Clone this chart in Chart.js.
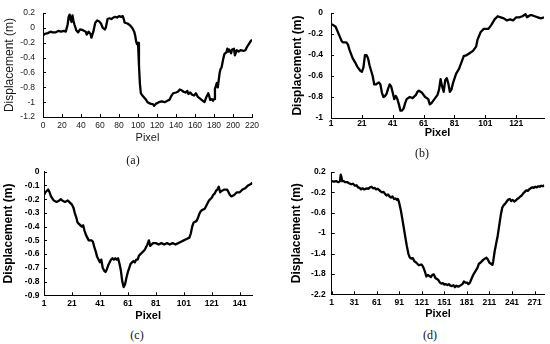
<!DOCTYPE html>
<html>
<head>
<meta charset="utf-8">
<script src="https://cdn.jsdelivr.net/npm/chart.js@4.4.0/dist/chart.umd.min.js"></script>
<style>
body { margin: 0; background: #fff; width: 550px; height: 344px; position: relative; overflow: hidden; }
canvas { position: absolute; }
.cap { position: absolute; font-family: "Liberation Serif", "Times New Roman", serif; font-size: 12px; color: #111; transform: translate(-50%, -50%); }
</style>
</head>
<body>
<canvas id="chartA" width="275" height="145" style="left:0;top:0"></canvas>
<canvas id="chartB" width="275" height="140" style="left:275px;top:0"></canvas>
<canvas id="chartC" width="275" height="163" style="left:0;top:160px"></canvas>
<canvas id="chartD" width="275" height="161" style="left:275px;top:160px"></canvas>
<div class="cap" style="left:133px;top:160px">(a)</div>
<div class="cap" style="left:422px;top:153px">(b)</div>
<div class="cap" style="left:137px;top:335px">(c)</div>
<div class="cap" style="left:430px;top:335px">(d)</div>
<script>
// (a)
const pixelA = [0,2,5,8,10,13,16,19,22,24,26,27,28,29,30,31,32,33,35,37,39,42,45,46,48,50,51,53,55,57,59,61,63,65,66,68,70,72,74,76,78,80,82,84,85,86,89,92,94,96,97,98,99,100,101,102,103,104,106,108,110,113,116,117,119,122,125,128,131,133,135,137,140,142,144,146,148,150,152,153,155,157,159,161,163,165,168,170,172,174,175,176,178,179,180,181,183,184,185,186,187,188,190,191,193,194,195,196,198,199,201,202,204,206,208,211,213,215,217,219,220];
const dispA = [-0.10,-0.08,-0.07,-0.05,-0.06,-0.06,-0.04,-0.05,-0.04,-0.05,0.05,0.15,0.18,0.12,0.08,0.17,0.10,0.05,-0.03,-0.06,-0.02,-0.03,-0.05,-0.09,-0.05,-0.08,-0.13,-0.05,0.07,0.10,0.09,0.06,0.00,-0.02,0.00,0.12,0.13,0.12,0.14,0.15,0.14,0.16,0.15,0.16,0.12,0.07,0.06,0.03,0.00,-0.05,-0.10,-0.18,-0.22,-0.20,-0.50,-0.75,-0.88,-0.90,-0.93,-0.96,-1.00,-1.02,-1.03,-1.05,-1.02,-1.00,-0.99,-1.00,-0.98,-0.97,-0.92,-0.88,-0.87,-0.86,-0.83,-0.84,-0.86,-0.87,-0.85,-0.89,-0.87,-0.90,-0.91,-0.88,-0.93,-0.95,-0.98,-1.00,-0.93,-0.88,-0.92,-0.97,-0.96,-0.98,-0.96,-0.82,-0.74,-0.80,-0.70,-0.60,-0.55,-0.53,-0.40,-0.35,-0.33,-0.28,-0.32,-0.29,-0.34,-0.29,-0.28,-0.37,-0.30,-0.32,-0.30,-0.31,-0.30,-0.25,-0.21,-0.17,-0.16];
const xTicksA = [0,20,40,60,80,100,120,140,160,180,200,220];
const yTicksA = [0.2,0,-0.2,-0.4,-0.6,-0.8,-1,-1.2];

// (b)
const pixelB = [1,2,4,6,8,9,11,12,13,15,17,18,20,21,22,23,24,25,26,27,28,29,30,32,33,34,35,36,37,38,39,40,41,42,43,44,45,46,47,48,49,50,52,54,56,57,58,60,62,64,65,66,68,70,71,72,73,74,75,76,77,78,79,80,82,84,86,87,89,91,93,95,96,98,100,103,105,107,109,111,113,115,117,119,121,123,125,126,127,128,130,131,133,135,137,139];
const dispB = [-0.11,-0.11,-0.13,-0.20,-0.27,-0.28,-0.28,-0.30,-0.35,-0.43,-0.48,-0.51,-0.55,-0.56,-0.52,-0.40,-0.40,-0.43,-0.50,-0.55,-0.60,-0.68,-0.68,-0.66,-0.68,-0.76,-0.80,-0.79,-0.77,-0.72,-0.68,-0.70,-0.76,-0.82,-0.79,-0.82,-0.87,-0.93,-0.93,-0.91,-0.86,-0.82,-0.80,-0.81,-0.78,-0.75,-0.74,-0.76,-0.80,-0.82,-0.87,-0.86,-0.82,-0.78,-0.73,-0.63,-0.70,-0.75,-0.64,-0.62,-0.67,-0.75,-0.73,-0.67,-0.58,-0.53,-0.45,-0.41,-0.40,-0.38,-0.36,-0.32,-0.25,-0.18,-0.15,-0.15,-0.11,-0.06,-0.03,-0.04,-0.05,-0.07,-0.06,-0.07,-0.04,-0.04,-0.03,-0.02,-0.01,-0.04,-0.02,-0.02,-0.03,-0.04,-0.05,-0.04];
const xTicksB = [1,21,41,61,81,101,121];
const yTicksB = [0,-0.2,-0.4,-0.6,-0.8,-1];

// (c)
const pixelC = [1,2,4,5,6,8,10,12,13,14,16,18,19,21,22,23,24,25,26,28,29,30,31,32,33,35,36,37,38,39,40,41,42,43,44,45,46,47,48,49,50,51,52,53,54,55,56,57,58,59,60,61,62,63,64,65,66,67,68,69,70,71,72,73,74,75,76,77,78,79,81,83,85,87,89,91,93,95,97,99,101,103,105,106,107,108,110,111,112,113,114,116,117,118,119,120,121,122,123,124,125,126,127,128,130,132,133,134,135,137,139,141,143,145,147,149,150];
const dispC = [-0.17,-0.15,-0.13,-0.15,-0.18,-0.21,-0.22,-0.21,-0.20,-0.21,-0.22,-0.21,-0.22,-0.24,-0.26,-0.30,-0.33,-0.37,-0.38,-0.40,-0.39,-0.43,-0.46,-0.48,-0.50,-0.50,-0.51,-0.55,-0.58,-0.62,-0.64,-0.66,-0.64,-0.70,-0.72,-0.73,-0.71,-0.68,-0.66,-0.64,-0.63,-0.64,-0.63,-0.64,-0.63,-0.67,-0.72,-0.80,-0.84,-0.82,-0.77,-0.73,-0.70,-0.67,-0.66,-0.65,-0.66,-0.64,-0.64,-0.61,-0.60,-0.59,-0.58,-0.57,-0.55,-0.53,-0.50,-0.54,-0.53,-0.52,-0.52,-0.53,-0.52,-0.53,-0.52,-0.53,-0.52,-0.53,-0.52,-0.51,-0.50,-0.49,-0.48,-0.45,-0.40,-0.37,-0.36,-0.34,-0.31,-0.29,-0.28,-0.27,-0.25,-0.23,-0.21,-0.20,-0.19,-0.17,-0.16,-0.14,-0.13,-0.11,-0.15,-0.14,-0.13,-0.13,-0.15,-0.17,-0.18,-0.17,-0.15,-0.15,-0.13,-0.12,-0.10,-0.09,-0.08];
const xTicksC = [1,21,41,61,81,101,121,141];
const yTicksC = [0,-0.1,-0.2,-0.3,-0.4,-0.5,-0.6,-0.7,-0.8,-0.9];

// (d)
const pixelD = [1,4,7,10,12,13,14,15,17,19,22,24,27,29,32,34,36,38,40,42,44,46,48,50,52,54,56,58,60,62,64,66,68,70,72,74,76,78,80,82,84,86,88,89,90,91,93,95,97,99,101,103,105,107,109,111,113,115,117,119,121,123,125,127,129,131,133,135,137,139,141,143,145,147,149,151,153,155,157,159,161,163,165,167,169,171,173,175,177,179,181,183,185,187,189,191,193,195,197,199,201,203,205,207,209,211,213,215,216,218,220,222,224,226,228,230,232,234,236,238,240,242,244,246,248,250,252,254,256,258,260,262,264,266,268,270,272,274,276,278,280,282,284];
const dispD = [0.02,0.01,0.02,0.00,0.02,0.15,0.10,0.02,0.02,0.00,0.00,-0.02,-0.04,-0.03,-0.07,-0.06,-0.10,-0.11,-0.14,-0.12,-0.14,-0.13,-0.12,-0.13,-0.10,-0.09,-0.12,-0.11,-0.14,-0.13,-0.15,-0.18,-0.20,-0.19,-0.23,-0.26,-0.24,-0.28,-0.30,-0.28,-0.33,-0.32,-0.35,-0.33,-0.36,-0.42,-0.55,-0.72,-0.90,-1.08,-1.25,-1.40,-1.48,-1.50,-1.49,-1.55,-1.57,-1.60,-1.63,-1.62,-1.62,-1.67,-1.75,-1.85,-1.82,-1.84,-1.86,-1.82,-1.81,-1.88,-1.90,-1.92,-1.97,-1.99,-1.98,-2.01,-2.00,-2.02,-2.00,-2.03,-2.04,-2.02,-2.06,-2.03,-2.05,-2.04,-2.02,-2.00,-1.95,-1.97,-1.97,-2.00,-1.97,-1.90,-1.83,-1.78,-1.73,-1.68,-1.60,-1.58,-1.55,-1.52,-1.50,-1.48,-1.52,-1.58,-1.60,-1.62,-1.55,-1.35,-1.20,-1.05,-0.85,-0.65,-0.50,-0.45,-0.42,-0.38,-0.34,-0.33,-0.37,-0.35,-0.38,-0.36,-0.33,-0.31,-0.28,-0.26,-0.22,-0.19,-0.16,-0.17,-0.14,-0.12,-0.10,-0.11,-0.09,-0.10,-0.08,-0.09,-0.07,-0.08,-0.06];
const xTicksD = [1,31,61,91,121,151,181,211,241,271];
const yTicksD = [0.2,-0.2,-0.6,-1,-1.4,-1.8,-2.2];

// small tick marks pointing into the plot
const innerTicks = {
    id: 'innerTicks',
    afterDraw(chart) {
        const {ctx, chartArea: a, scales: {x, y}} = chart;
        ctx.save();
        ctx.strokeStyle = '#000';
        ctx.lineWidth = 1;
        ctx.beginPath();
        x.ticks.forEach(t => {
            const px = Math.round(x.getPixelForValue(t.value)) + 0.5;
            ctx.moveTo(px, a.bottom);
            ctx.lineTo(px, a.bottom - 3);
        });
        y.ticks.forEach(t => {
            const py = Math.round(y.getPixelForValue(t.value)) + 0.5;
            ctx.moveTo(a.left, py);
            ctx.lineTo(a.left + 3, py);
        });
        ctx.stroke();
        ctx.restore();
    }
};

function makeChart(id, xs, ys, xTicks, yTicks, o) {
    const weight = o.bold ? 'bold' : 'normal';
    const family = '"Liberation Sans", Arial, sans-serif';
    const color = o.bold ? '#000' : '#1a1a1a';
    return new Chart(document.getElementById(id), {
        type: 'line',
        data: {
            datasets: [{
                data: xs.map((x, i) => ({x: x, y: ys[i]})),
                borderColor: '#000',
                borderWidth: 2.3,
                pointRadius: 0,
                tension: 0,
                borderJoinStyle: 'round',
                fill: false
            }]
        },
        options: {
            responsive: false,
            animation: false,
            events: [],
            layout: {padding: o.pad},
            plugins: {legend: {display: false}, tooltip: {enabled: false}},
            scales: {
                x: {
                    type: 'linear',
                    min: o.xMin,
                    max: o.xMax,
                    afterBuildTicks: s => { s.ticks = xTicks.map(v => ({value: v})); },
                    afterFit: s => { s.height = o.xHeight; },
                    grid: {display: false, drawTicks: false},
                    border: {display: true, color: '#000', width: 1},
                    ticks: {
                        autoSkip: false, maxRotation: 0, padding: o.xTickPad, color: color,
                        font: {family: family, size: 8.5, weight: weight},
                        callback: v => String(v)
                    },
                    title: {
                        display: true, text: 'Pixel', color: color,
                        padding: {top: 0, bottom: 0},
                        font: {family: family, size: 11, weight: weight}
                    }
                },
                y: {
                    min: yTicks[yTicks.length - 1],
                    max: yTicks[0],
                    afterBuildTicks: s => { s.ticks = yTicks.map(v => ({value: v})); },
                    afterFit: s => { s.width = o.yWidth; },
                    grid: {display: false, drawTicks: false},
                    border: {display: true, color: '#000', width: 1},
                    ticks: {
                        padding: o.yTickPad, color: color,
                        font: {family: family, size: 8.5, weight: weight},
                        callback: v => String(v)
                    },
                    title: {
                        display: true, text: 'Displacement (m)', color: color,
                        padding: {top: o.yTitlePad, bottom: 0},
                        font: {family: family, size: 12, weight: weight}
                    }
                }
            }
        },
        plugins: [innerTicks]
    });
}

makeChart('chartA', pixelA, dispA, xTicksA, yTicksA, {
    bold: false, xMin: 0, xMax: 220,
    pad: {left: 0, top: 7, right: 23, bottom: 0},
    yWidth: 43, xHeight: 28, yTickPad: 8, xTickPad: 3.5, yTitlePad: 2.5
});
makeChart('chartB', pixelB, dispB, xTicksB, yTicksB, {
    bold: true, xMin: 1, xMax: 139,
    pad: {left: 14, top: 10, right: 6, bottom: 0},
    yWidth: 42, xHeight: 22, yTickPad: 8, xTickPad: 1, yTitlePad: 1.5
});
makeChart('chartC', pixelC, dispC, xTicksC, yTicksC, {
    bold: true, xMin: 1, xMax: 150,
    pad: {left: 0, top: 11.7, right: 22.7, bottom: 0},
    yWidth: 44, xHeight: 27.7, yTickPad: 4.5, xTickPad: 3.5, yTitlePad: 1
});
makeChart('chartD', pixelD, dispD, xTicksD, yTicksD, {
    bold: true, xMin: 1, xMax: 284,
    pad: {left: 13, top: 12, right: 5.7, bottom: 0},
    yWidth: 43.7, xHeight: 26.7, yTickPad: 6, xTickPad: 3.5, yTitlePad: 1.5
});
</script>
</body>
</html>
